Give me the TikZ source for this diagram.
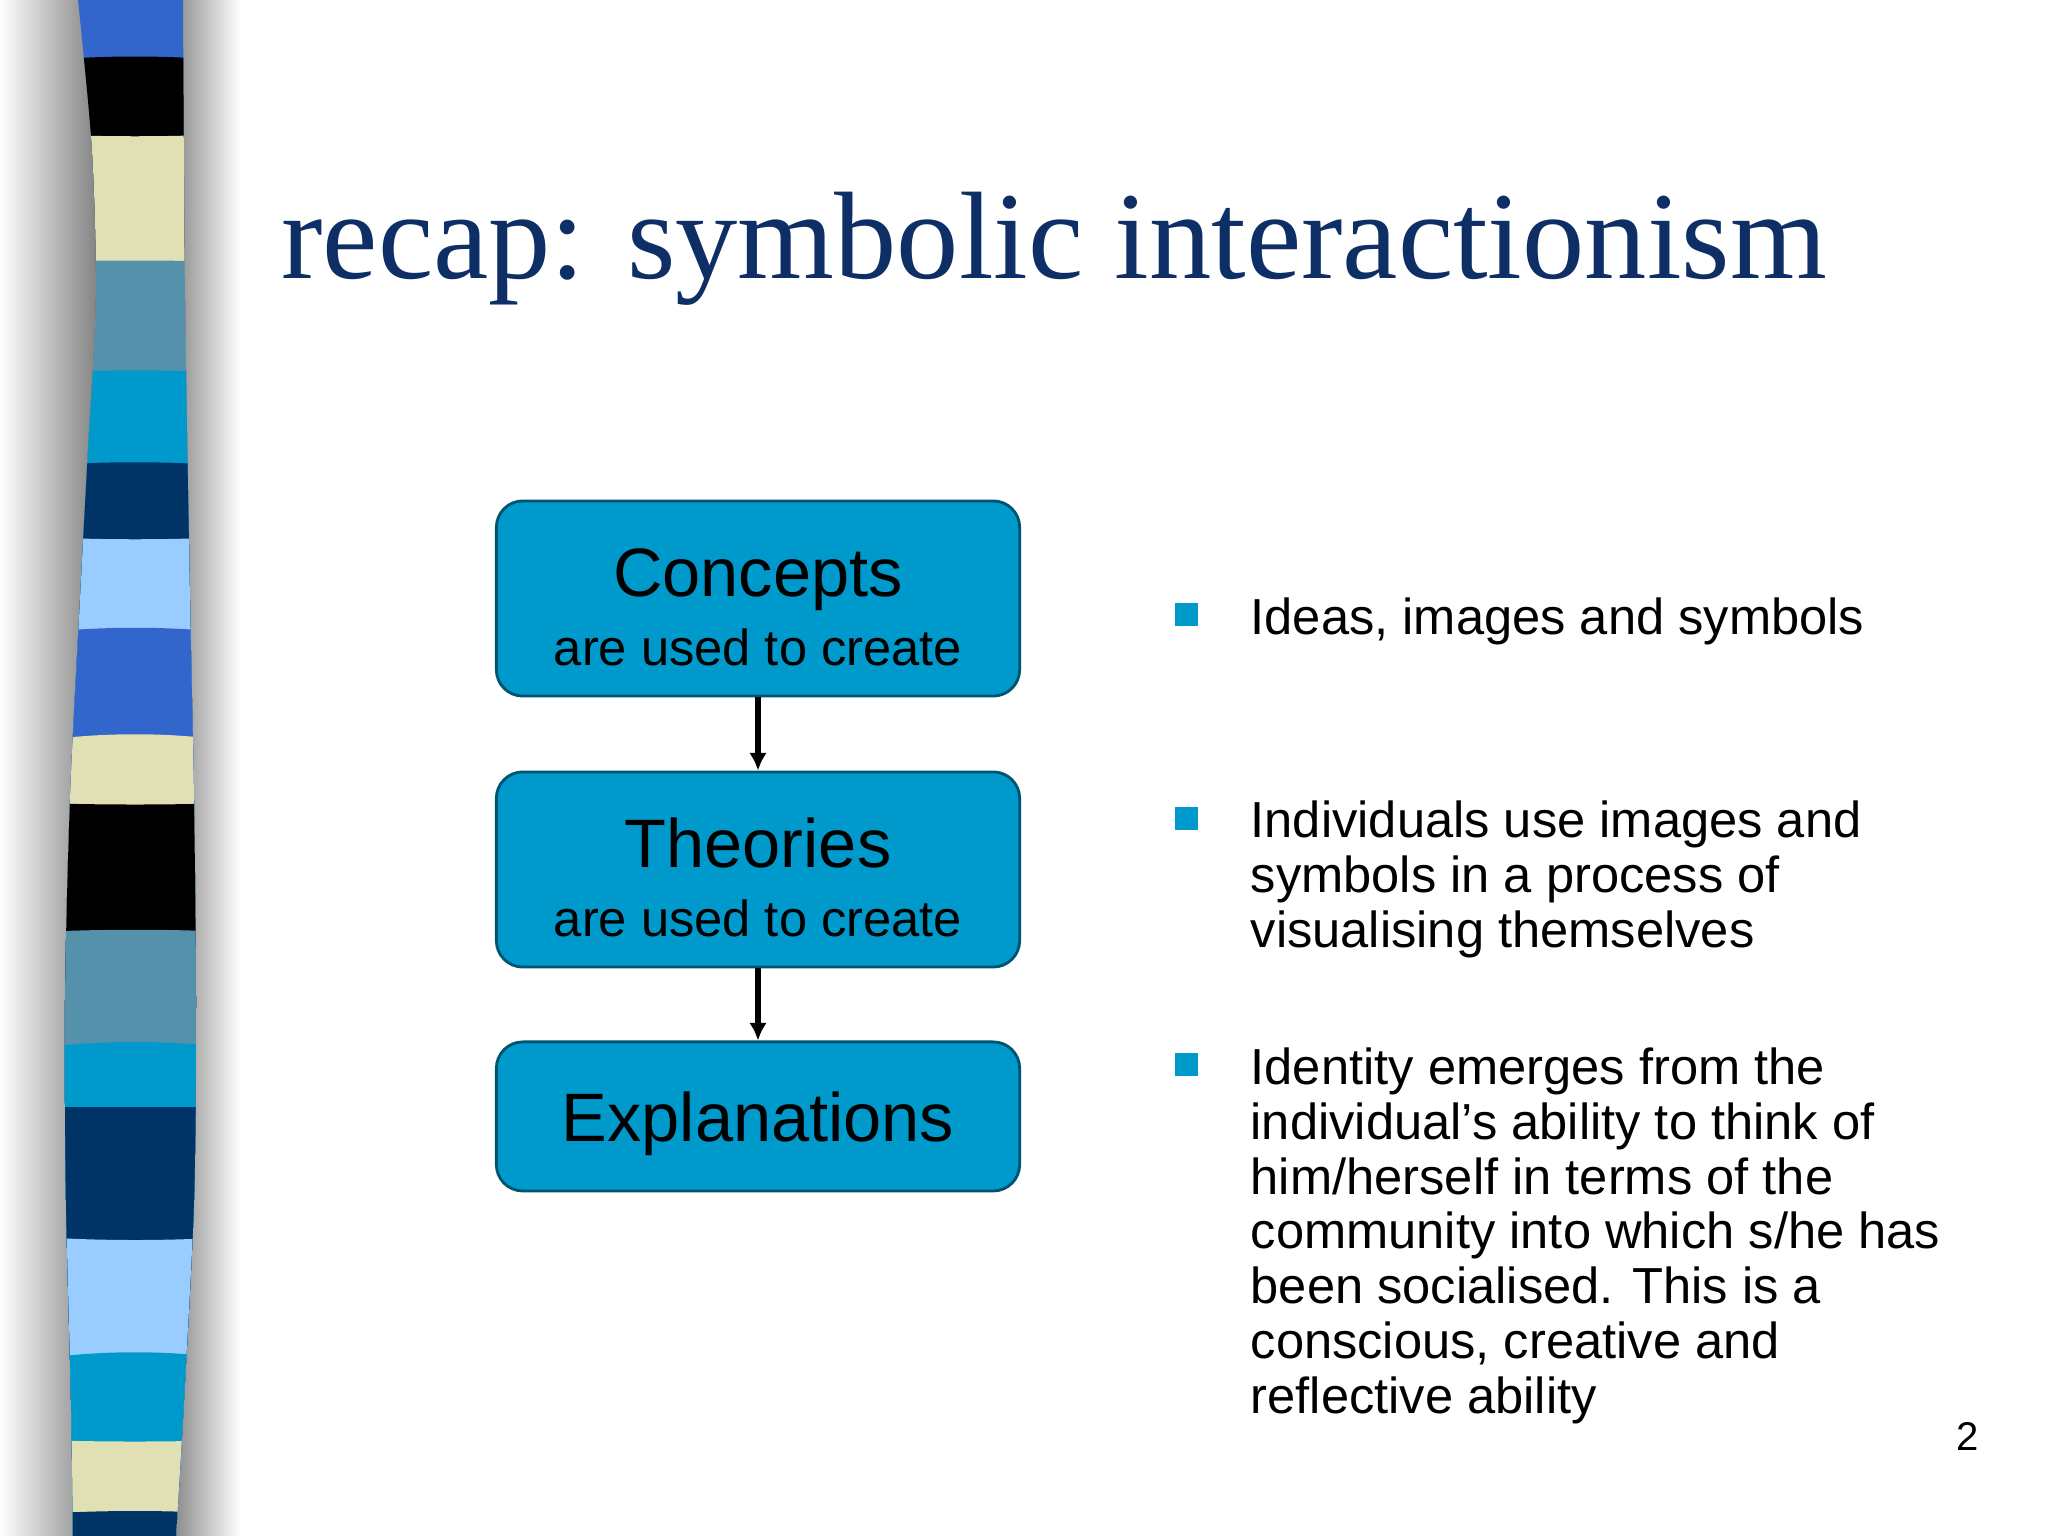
\documentclass[tikz,border=0pt]{standalone}
\usepackage{fontspec}
\setmainfont{Liberation Sans}
\newfontfamily\titlefont{Liberation Serif}
\usepackage{tikz}
\usetikzlibrary{arrows.meta,positioning}
\definecolor{slidenavy}{HTML}{0E2E66}
\definecolor{boxblue}{HTML}{0099CC}
\definecolor{stripeblue}{HTML}{3366CC}
\definecolor{stripecream}{HTML}{E0E0B4}
\definecolor{stripesteel}{HTML}{5591AA}
\definecolor{stripenavy}{HTML}{003366}
\definecolor{stripelight}{HTML}{99CCFF}
\newcommand{\boxhead}{\fontsize{19.5}{19.5}\selectfont\rule{0pt}{18.5pt}}

\begin{document}
\begin{tikzpicture}[x=0.01cm,y=-0.01cm,>={Latex[length=5pt,width=5pt]},
    stepbox/.style={draw=boxblue!55!black,line width=0.8pt,fill=boxblue,
      rounded corners=7.5pt,minimum width=5.23cm,inner sep=0pt,
      align=center,font=\fontsize{14.4}{19.5}\selectfont},
    bullet/.style={fill=boxblue,minimum size=0.23cm,inner sep=0pt},
    point/.style={anchor=north west,inner sep=0pt,align=left,
      font=\fontsize{14.4}{15.6}\selectfont}]

    \useasboundingbox (0,0) rectangle (2048,1536);
    \fill[white] (0,0) rectangle (2048,1536);

    \shade[left color=white,middle color=black!12,right color=black!50]
      (0,0) rectangle (100,1536);
    \shade[left color=black!45,right color=white] (175,0) rectangle (240,1536);
    \begin{scope}
      \clip plot[smooth] coordinates {(78,0) (92,150) (96,300) (88,450)
          (80,600) (70,800) (65,1000) (66,1200) (71,1400) (73,1536)}
        -- plot[smooth] coordinates {(176,1536) (184,1400) (194,1200)
          (196,1000) (194,800) (190,600) (185,300) (183,0)} -- cycle;
      \foreach \top/\sag/\col in {0/0/stripeblue,61/-6/black,
          134/3/stripecream,262/-2/stripesteel,374/-5/boxblue,
          466/-5/stripenavy,537/3/stripelight,633/-7/stripeblue,
          741/-9/stripecream,803/2/black,932/-3/stripesteel,
          1048/-8/boxblue,1107/0/stripenavy,1237/4/stripelight,
          1359/-9/boxblue,1440/2/stripecream,1514/-4/stripenavy}
        \fill[\col] (40,\top) .. controls (100,\top+\sag) and (170,\top+\sag)
          .. (230,\top) -- (230,1536) -- (40,1536) -- cycle;
    \end{scope}

    \node[anchor=base west,text=slidenavy,
      font=\titlefont\fontsize{35.4}{40}\selectfont] (title) at (269,278)
      {recap: symbolic interactionism};

    \node[stepbox,minimum height=1.95cm] (concepts) at (758,598.5)
      {{\boxhead Concepts}\\are used to create};
    \node[stepbox,minimum height=1.95cm,below=0.73cm of concepts] (theories)
      {{\boxhead Theories}\\are used to create};
    \node[stepbox,minimum height=1.49cm,below=0.72cm of theories] (explanations)
      {\boxhead Explanations};
    \draw[->,line width=1.6pt] (concepts) -- (theories);
    \draw[->,line width=1.6pt] (theories) -- (explanations);

    \foreach \name/\y in {ideas/614,images/818,identity/1064}
      \node[bullet] (bullet\name) at (1186,\y) {};
    \node[point] (ideas) at (1250,597) {Ideas, images and symbols};
    \node[point] (images) at (1250,800)
      {Individuals use images and\\symbols in a process of\\visualising themselves};
    \node[point] (identity) at (1250,1047)
      {Identity emerges from the\\individual’s ability to think of\\
       him/herself in terms of the\\community into which s/he has\\
       been socialised. This is a\\conscious, creative and\\reflective ability};

    \node[anchor=base east,font=\fontsize{11.4}{12}\selectfont] (pagenum)
      at (1991,1450) {2};
  \end{tikzpicture}
\end{document}
